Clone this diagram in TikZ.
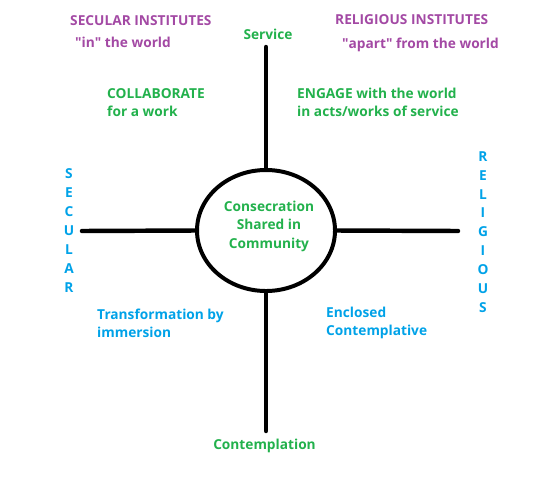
\documentclass[tikz,border=0pt]{standalone}
\usepackage{fontspec}
\setmainfont{Open Sans}
\usetikzlibrary{shapes.geometric}

\definecolor{paintpurple}{RGB}{163,73,164}
\definecolor{paintgreen}{RGB}{34,177,76}
\definecolor{paintblue}{RGB}{0,162,232}

\begin{document}
\begin{tikzpicture}[
    x=0.03cm, y=-0.03cm,
    every node/.style={font=\fontsize{11.7}{15.3}\selectfont\bfseries, inner sep=0pt},
    purpletext/.style={text=paintpurple, align=left, anchor=west},
    greentext/.style={text=paintgreen, align=left, anchor=west},
    bluetext/.style={text=paintblue, align=left, anchor=west},
    axislabel/.style={text=paintblue, align=center},
    axis/.style={line width=3.8pt, line cap=round, color=black},
    core/.style={
        ellipse,
        draw=black,
        line width=3.4pt,
        minimum width=4.14cm,
        minimum height=3.63cm
    }
]
\useasboundingbox (0,0) rectangle (542,498);

% Centre
\node[core] (consec) at (266,230.5) {};
\node[text=paintgreen, align=center, font=\fontsize{11.7}{15.8}\selectfont\bfseries]
    (consectext) at (269,226) {Consecration\\Shared in\\Community};

% Axis ends
\coordinate (topend) at (266,47);
\coordinate (bottomend) at (266,431);
\coordinate (leftend) at (82,231);
\coordinate (rightend) at (458,231);

% Axes
\draw[axis] (topend) -- (consec.north);
\draw[axis] (consec.south) -- (bottomend);
\draw[axis] (leftend) -- (consec.west);
\draw[axis] (consec.east) -- (rightend);

% Top labels
\node[purpletext] (secinst) at (70,20.5) {SECULAR INSTITUTES};
\node[purpletext] (inworld) at (75,42) {\textquotedbl in\textquotedbl{} the world};
\node[purpletext] (relinst) at (335,20) {RELIGIOUS INSTITUTES};
\node[purpletext] (apart) at (342,45) {\textquotedbl apart\textquotedbl{} from the world};
\node[text=paintgreen] (service) at (268,34) {Service};

% Upper quadrants
\node[greentext] (collab) at (107,102.5) {COLLABORATE\\for a work};
\node[greentext] (engage) at (297,102.5) {ENGAGE with the world\\in acts/works of service};

% Side labels
\node[axislabel, font=\fontsize{11.7}{16.3}\selectfont\bfseries] (secular) at (69,230.5)
    {S\\E\\C\\U\\L\\A\\R};
\node[axislabel, font=\fontsize{11.7}{16.1}\selectfont\bfseries] (religious) at (483,232)
    {R\\E\\L\\I\\G\\I\\O\\U\\S};

% Lower quadrants
\node[bluetext] (transform) at (97,323) {Transformation by\\immersion};
\node[bluetext] (enclosed) at (326,323) {Enclosed\\Contemplative};
\node[text=paintgreen] (contempl) at (264.5,446) {Contemplation};

\end{tikzpicture}
\end{document}
